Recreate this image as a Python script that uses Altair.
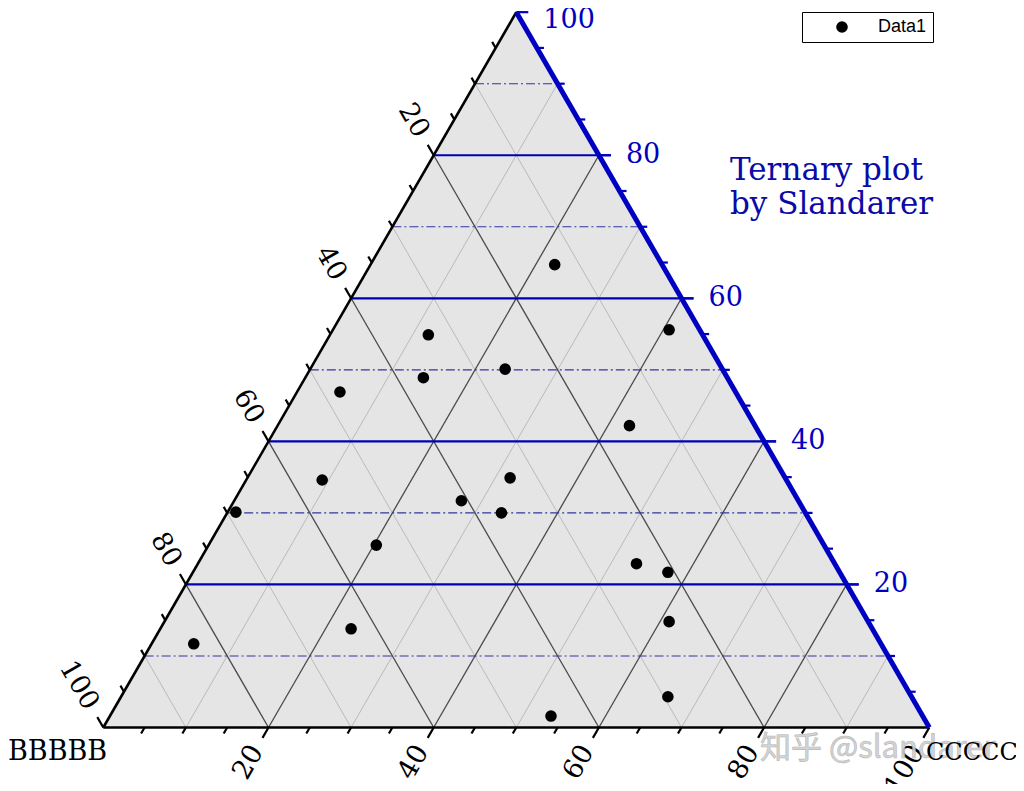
import altair as alt
import numpy as np
import pandas as pd

# ---------------- data ----------------
A_top = [64.7, 55.6, 54.9, 48.9, 50.1, 46.9, 42.2, 34.6, 34.9, 31.7,
         30.0, 30.1, 25.5, 22.9, 21.7, 14.8, 13.8, 11.7, 4.3, 1.6]
B_left = [13.0, 3.7, 33.2, 36.8, 26.3, 47.9, 15.2, 56.2, 33.3, 40.8,
          36.8, 68.9, 54.2, 24.0, 20.8, 24.1, 63.1, 83.2, 29.5, 45.0]
C_right = [22.3, 40.7, 11.9, 14.3, 23.6, 5.2, 42.6, 9.2, 31.8, 27.5,
           33.2, 1.0, 20.3, 53.1, 57.5, 61.1, 23.1, 5.1, 66.2, 53.4]
series_name = "Data1"

tick_values = [5, 10, 15, 20, 25, 30, 35, 40, 45, 50,
               55, 60, 65, 70, 75, 80, 85, 90, 95, 100]
label_values = [20, 40, 60, 80, 100]
grid_dark = [20, 40, 60, 80]
grid_light = [10, 30, 50, 70, 90]

label_B = "BBBBB"
label_C = "CCCCC"
title_lines = ["Ternary plot", "by Slandarer"]
watermark = "知乎 @slandarer"

# ---------------- styling / layout ----------------
BLUE = "#0000C0"
BLUE_LINE = "#0000B0"
DASH_BLUE = "#3434A0"
FILL = "#E5E5E5"
SERIF = "DejaVu Serif"

W, H = 1008, 776
K = 8.26                     # pixels per ternary unit
ORIGIN = (95.3, 719.5)       # pixel position of the B corner inside the view
xmin = -ORIGIN[0] / K
xmax = xmin + W / K
ymax = ORIGIN[1] / K
ymin = ymax - H / K
hs = np.sqrt(3) / 2
LMAJ = 12 / K
LMIN = 7 / K
DLAB = 23 / K
DRIGHT = 27 / K
TOPSAFE = ymax - 12 / K      # keep the top label inside the drawing

xs = alt.Scale(domain=[xmin, xmax], nice=False, zero=False)
ys = alt.Scale(domain=[ymin, ymax], nice=False, zero=False)


def rules(rows, **mk):
    df = pd.DataFrame(rows)
    return alt.Chart(df).mark_rule(**mk).encode(
        x=alt.X("x:Q", scale=xs, axis=None),
        y=alt.Y("y:Q", scale=ys, axis=None),
        x2="x2:Q",
        y2="y2:Q",
    )


def texts(rows, **mk):
    df = pd.DataFrame(rows)
    return alt.Chart(df).mark_text(**mk).encode(
        x=alt.X("x:Q", scale=xs, axis=None),
        y=alt.Y("y:Q", scale=ys, axis=None),
        text="t:N",
    )


# triangle background
tri = pd.DataFrame({"x": [0, 50, 100], "y": [0, 100 * hs, 0], "y0": [0, 0, 0]})
fill_layer = alt.Chart(tri).mark_area(color=FILL, opacity=1).encode(
    x=alt.X("x:Q", scale=xs, axis=None),
    y=alt.Y("y:Q", scale=ys, axis=None),
    y2="y0:Q",
)


def oblique(vals):
    rows = []
    for v in vals:
        rows.append(dict(x=v, y=0, x2=50 + v / 2, y2=(100 - v) * hs))
        rows.append(dict(x=100 - v, y=0, x2=(100 - v) / 2, y2=(100 - v) * hs))
    return rows


light_layer = rules(oblique(grid_light), color="#B4B4B4", strokeWidth=0.9)
dark_layer = rules(oblique(grid_dark), color="#4A4A4A", strokeWidth=1.3)

solid_h = rules([dict(x=a / 2, y=a * hs, x2=100 - a / 2 + LMAJ, y2=a * hs) for a in grid_dark],
                color=BLUE_LINE, strokeWidth=2.2)
dash_h = rules([dict(x=a / 2, y=a * hs, x2=100 - a / 2 + LMIN, y2=a * hs) for a in grid_light],
               color=DASH_BLUE, strokeWidth=1.1, strokeDash=[9, 3, 2, 3])

edges_black = rules([dict(x=0, y=0, x2=100, y2=0), dict(x=0, y=0, x2=50, y2=100 * hs)],
                    color="black", strokeWidth=2.6)
edge_blue = rules([dict(x=50, y=100 * hs, x2=100, y2=0)], color=BLUE, strokeWidth=5)

tick_black, tick_blue = [], []
lab_bottom, lab_left, lab_right = [], [], []
for v in tick_values:
    L = LMAJ if v in label_values else LMIN
    tick_black.append(dict(x=v, y=0, x2=v - 0.5 * L, y2=-hs * L))
    px, py = (100 - v) / 2, (100 - v) * hs
    tick_black.append(dict(x=px, y=py, x2=px - 0.5 * L, y2=py + hs * L))
    qx, qy = 100 - v / 2, v * hs
    tick_blue.append(dict(x=qx, y=qy, x2=qx + L, y2=qy))
    if v in label_values:
        lab_bottom.append(dict(x=v - 0.5 * DLAB, y=-hs * DLAB, t=str(v)))
        lab_left.append(dict(x=px - 0.5 * DLAB, y=py + hs * DLAB, t=str(v)))
        lab_right.append(dict(x=qx + DRIGHT, y=min(qy, TOPSAFE), t=str(v)))

ticks_b = rules(tick_black, color="black", strokeWidth=2.2)
ticks_r = rules(tick_blue, color=BLUE, strokeWidth=2.2)

labels_bottom = texts(lab_bottom, angle=300, align="right", baseline="middle",
                      font=SERIF, fontSize=27, color="black")
labels_left = texts(lab_left, angle=60, align="right", baseline="middle",
                    font=SERIF, fontSize=27, color="black")
labels_right = texts(lab_right, align="left", baseline="middle",
                     font=SERIF, fontSize=27, color=BLUE)

# data points
pts = pd.DataFrame({"A": A_top, "B": B_left, "C": C_right})
tot = pts["A"] + pts["B"] + pts["C"]
pts["x"] = 100 * pts["C"] / tot + 50 * pts["A"] / tot
pts["y"] = 100 * pts["A"] / tot * hs
pts["series"] = series_name
points = alt.Chart(pts).mark_circle(size=135, opacity=1).encode(
    x=alt.X("x:Q", scale=xs, axis=None),
    y=alt.Y("y:Q", scale=ys, axis=None),
    color=alt.Color(
        "series:N",
        scale=alt.Scale(domain=[series_name], range=["black"]),
        legend=alt.Legend(
            title=None, orient="none", legendX=794, legendY=4,
            strokeColor="black", fillColor="white", padding=6, cornerRadius=0,
            symbolType="circle", symbolSize=135, symbolOffset=25,
            labelOffset=27, labelFont="Liberation Sans", labelFontSize=18,
            labelColor="black",
        ),
    ),
)

# annotations
wm = alt.Chart(pd.DataFrame({"t": [watermark]})).mark_text(
    align="left", baseline="alphabetic", font="Noto Sans CJK SC", fontSize=31,
    color="#D0D0D0", opacity=0.9, stroke="#B0B0B0", strokeWidth=0.6,
).encode(x=alt.value(752), y=alt.value(750), text="t:N")

ax_b = alt.Chart(pd.DataFrame({"t": [label_B]})).mark_text(
    align="left", baseline="alphabetic", font=SERIF, fontSize=27, color="black",
).encode(x=alt.value(0), y=alt.value(752), text="t:N")

ax_c = alt.Chart(pd.DataFrame({"t": [label_C]})).mark_text(
    align="left", baseline="alphabetic", font=SERIF, fontSize=24, color="black",
).encode(x=alt.value(918), y=alt.value(752), text="t:N")

ttl = alt.Chart(pd.DataFrame({"t": [0]})).mark_text(
    text=title_lines, align="left", baseline="alphabetic", font=SERIF,
    fontSize=31, color="#0A0AA8", lineHeight=34,
).encode(x=alt.value(722), y=alt.value(172))

chart = alt.layer(
    fill_layer, light_layer, dark_layer, dash_h, solid_h,
    ticks_b, ticks_r, edges_black, edge_blue,
    labels_bottom, labels_left, labels_right,
    wm, ax_b, ax_c, points, ttl,
).properties(
    width=W, height=H, autosize="none", padding=0,
).configure_view(stroke="transparent")

chart.save("out.html", embed_options={"renderer": "svg", "actions": False})
